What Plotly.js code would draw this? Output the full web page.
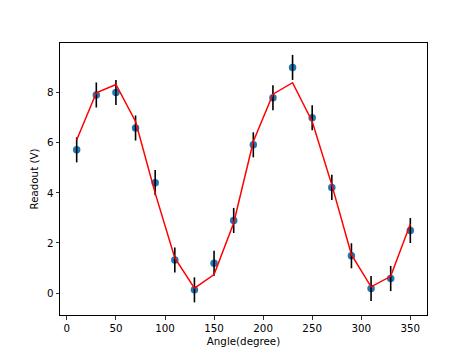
<!DOCTYPE html>
<html>
<head>
<meta charset="utf-8">
<script src="https://cdn.plot.ly/plotly-3.0.1.min.js"></script>
<style>html,body{margin:0;padding:0;background:#fff;}#chart{width:474px;height:355px;}</style>
</head>
<body>
<div id="chart"></div>
<script>
const angles = [10, 30, 50, 70, 90, 110, 130, 150, 170, 190, 210, 230, 250, 270, 290, 310, 330, 350];
const readout = [5.72, 7.91, 8.01, 6.59, 4.41, 1.32, 0.13, 1.19, 2.9, 5.92, 7.8, 9.01, 7.0, 4.22, 1.49, 0.18, 0.58, 2.5];
const readoutErr = [0.5, 0.5, 0.5, 0.5, 0.5, 0.5, 0.5, 0.5, 0.5, 0.5, 0.5, 0.5, 0.5, 0.5, 0.5, 0.5, 0.5, 0.5];
const fitValues = [6.11, 8.0, 8.33, 6.85, 3.99, 1.4, 0.2, 0.74, 2.8, 6.05, 7.94, 8.4, 6.85, 4.32, 1.53, 0.25, 0.67, 2.76];
const xTicks = [0, 50, 100, 150, 200, 250, 300, 350];
const yTicks = [0, 2, 4, 6, 8];

const font = {family: 'DejaVu Sans, sans-serif', size: 10.3, color: '#000'};

const traces = [
  {x: angles, y: readout, type: 'scatter', mode: 'markers',
   marker: {color: '#1f77b4', size: 7.5}, hoverinfo: 'skip'},
  {x: angles, y: readout, type: 'scatter', mode: 'markers',
   marker: {color: 'rgba(0,0,0,0)', size: 1},
   error_y: {type: 'data', array: readoutErr, visible: true, color: '#000', thickness: 1.6, width: 0}},
  {x: angles, y: fitValues, type: 'scatter', mode: 'lines',
   line: {color: '#ff0000', width: 1.5}}
];

const axisCommon = {
  showgrid: false, zeroline: false, showline: true, mirror: true,
  linecolor: '#000', linewidth: 1, ticks: 'outside', ticklen: 3.5, tickwidth: 0.8,
  tickcolor: '#000', tickfont: font
};

const layout = {
  width: 474, height: 355,
  margin: {l: 59.5, r: 47, t: 43, b: 40},
  paper_bgcolor: '#fff', plot_bgcolor: '#fff',
  showlegend: false,
  font: font,
  xaxis: Object.assign({}, axisCommon, {
    range: [-7, 367], tickmode: 'array', tickvals: xTicks, ticktext: xTicks.map(String),
    title: {text: 'Angle(degree)', font: font, standoff: 4}
  }),
  yaxis: Object.assign({}, axisCommon, {
    range: [-0.875, 9.985], tickmode: 'array', tickvals: yTicks, ticktext: yTicks.map(String),
    title: {text: 'Readout (V)', font: font, standoff: 6}
  })
};

Plotly.newPlot('chart', traces, layout, {displayModeBar: false, staticPlot: true});
</script>
</body>
</html>
